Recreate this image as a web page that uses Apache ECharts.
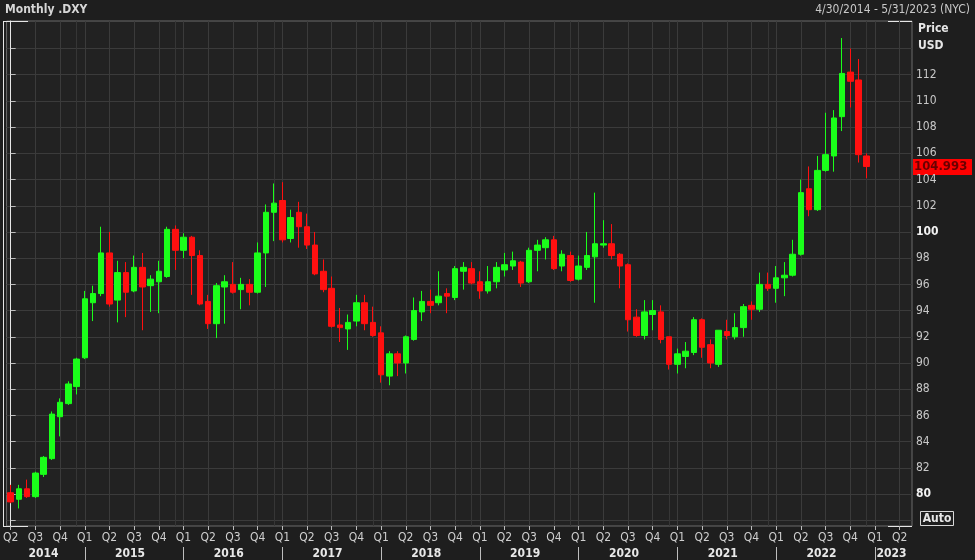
<!DOCTYPE html>
<html>
<head>
<meta charset="utf-8">
<title>Monthly .DXY</title>
<script src="https://cdn.jsdelivr.net/npm/echarts@6/dist/echarts.min.js"></script>
<style>
  html, body { margin: 0; padding: 0; background: #1e1e1e; }
  #main { width: 975px; height: 560px; }
</style>
</head>
<body>
<div id="main"></div>
<script>
// monthly candles from Apr 2014; the time axis runs on to May 2023
const startYear = 2014
const startMonth = 4
const axisMonths = 110

const opens = [
  80.1, 79.6, 80.4, 79.8, 81.5, 82.7, 85.9, 86.9, 88.2, 90.4, 94.6, 95.3,
  98.4, 94.8, 96.9, 95.5, 97.3, 95.9, 96.2, 96.6, 100.2, 98.6, 99.6, 98.2,
  94.7, 93.0, 95.8, 96.0, 95.6, 96.0, 95.4, 98.4, 101.5, 102.4, 99.5, 101.5,
  100.4, 99.0, 97.0, 95.7, 92.9, 92.6, 93.2, 94.6, 93.1, 92.3, 89.0, 90.7,
  90.0, 91.8, 93.9, 94.7, 94.6, 95.3, 95.0, 97.0, 97.2, 96.2, 95.5, 96.2,
  97.1, 97.4, 97.7, 96.2, 98.6, 98.8, 99.4, 97.4, 98.2, 96.4, 97.3, 98.1,
  99.0, 99.1, 98.3, 97.5, 93.5, 92.1, 93.7, 93.9, 92.0, 89.9, 90.5, 90.8,
  93.3, 91.4, 89.9, 92.4, 92.0, 92.7, 94.4, 94.1, 96.0, 95.7, 96.5, 96.7,
  98.3, 103.3, 101.7, 104.7, 105.8, 108.8, 112.2, 111.6, 105.8
]
const closes = [
  79.4, 80.4, 79.8, 81.6, 82.8, 86.1, 87.0, 88.4, 90.3, 94.9, 95.3, 98.4,
  94.5, 96.9, 95.4, 97.3, 95.8, 96.4, 97.0, 100.2, 98.6, 99.6, 98.2, 94.5,
  93.0, 95.9, 96.2, 95.4, 96.0, 95.4, 98.4, 101.5, 102.2, 99.4, 101.1, 100.4,
  99.0, 96.8, 95.6, 92.8, 92.7, 93.1, 94.6, 93.0, 92.1, 89.1, 90.7, 90.0,
  92.0, 94.0, 94.7, 94.4, 95.1, 95.1, 97.2, 97.3, 96.1, 95.5, 96.2, 97.3,
  97.5, 97.8, 96.1, 98.6, 99.0, 99.4, 97.2, 98.3, 96.3, 97.4, 98.2, 99.1,
  99.1, 98.2, 97.4, 93.3, 92.1, 93.9, 94.0, 91.8, 89.9, 90.7, 90.9, 93.3,
  91.2, 90.0, 92.5, 92.1, 92.7, 94.3, 94.1, 96.0, 95.7, 96.5, 96.7, 98.3,
  103.0, 101.7, 104.7, 105.9, 108.7, 112.1, 111.5, 105.9, 104.993
]
const lows = [
  79.3, 78.9, 79.7, 79.7, 81.3, 82.6, 84.4, 86.8, 87.6, 90.3, 93.2, 95.1,
  94.3, 93.1, 93.5, 95.4, 92.5, 93.9, 93.8, 96.5, 97.1, 98.0, 95.2, 94.4,
  92.6, 91.9, 93.0, 95.3, 94.1, 94.4, 95.3, 95.8, 99.3, 99.2, 99.2, 98.8,
  98.7, 96.7, 95.4, 92.7, 91.6, 91.0, 92.8, 92.5, 92.0, 88.5, 88.3, 89.0,
  89.2, 91.7, 93.2, 93.8, 94.4, 93.8, 94.8, 95.6, 96.0, 94.9, 95.3, 95.7,
  96.6, 97.1, 95.8, 96.1, 97.0, 97.9, 97.1, 97.0, 96.2, 96.3, 97.1, 94.6,
  98.8, 97.9, 95.7, 92.4, 92.0, 91.8, 92.5, 91.5, 89.5, 89.2, 89.6, 90.6,
  90.4, 89.6, 89.7, 91.8, 91.8, 92.0, 93.3, 93.9, 95.5, 94.6, 95.1, 96.6,
  98.2, 101.2, 101.6, 104.6, 104.6, 107.7, 109.5, 105.3, 104.1
]
const highs = [
  80.7, 80.7, 81.1, 81.7, 82.9, 86.3, 87.3, 88.6, 90.4, 95.5, 95.9, 100.4,
  100.0, 97.8, 97.7, 98.2, 98.4, 96.7, 97.8, 100.4, 100.5, 99.9, 99.7, 98.6,
  95.2, 96.1, 96.7, 97.7, 96.5, 96.4, 99.2, 102.1, 103.7, 103.8, 101.7, 102.3,
  101.4, 100.0, 97.9, 96.6, 94.2, 93.7, 95.2, 95.2, 94.3, 92.8, 90.9, 90.9,
  92.1, 95.0, 95.5, 95.6, 97.0, 95.7, 97.4, 97.7, 97.7, 97.0, 97.4, 97.7,
  98.4, 98.5, 97.8, 98.8, 99.4, 99.6, 99.7, 98.6, 98.5, 98.2, 100.0, 103.0,
  100.9, 100.6, 98.4, 97.6, 94.1, 94.8, 94.8, 94.4, 92.0, 91.1, 91.6, 93.5,
  93.4, 91.8, 92.5, 93.3, 93.8, 94.5, 94.7, 96.9, 96.9, 97.4, 97.7, 99.4,
  104.0, 105.0, 105.8, 109.1, 109.3, 114.8, 114.0, 113.2, 106.0
]

const priceTicks = [78, 80, 82, 84, 86, 88, 90, 92, 94, 96, 98, 100, 102, 104, 106, 108, 110, 112, 114]
const priceLabels = [80, 82, 84, 86, 88, 90, 92, 94, 96, 98, 100, 102, 104, 106, 108, 110, 112]
const boldPrices = [80, 100]
const quarterNames = ['Q1', 'Q2', 'Q3', 'Q4']
const dateRange = '4/30/2014 - 5/31/2023 (NYC)'

// layout of the plot box (px)
const plot = { left: 3, right: 912, top: 21, bottom: 526 }
const W = 975, H = 560
const yMin = 77.56, yMax = 116.1

const FONT = '"DejaVu Sans Condensed", "DejaVu Sans", sans-serif'

// month helpers
const monthOf = (i) => (startMonth - 1 + i) % 12
const yearOf = (i) => startYear + Math.floor((startMonth - 1 + i) / 12)

const idx = Array.from({ length: axisMonths }, (_, i) => i)
const quarterIdx = idx.filter((i) => monthOf(i) % 3 === 0)
const janIdx = idx.filter((i) => i > 0 && monthOf(i) === 0)
const decIdx = idx.filter((i) => monthOf(i) === 11)

// year label sits in the middle of the months it covers
const yearCenter = {}
idx.forEach((i) => {
  const y = yearOf(i)
  yearCenter[y] = yearCenter[y] || []
  yearCenter[y].push(i)
})
const yearPos = Object.keys(yearCenter).map((y) => {
  const list = yearCenter[y]
  return { year: y, pos: list.reduce((a, b) => a + b, 0) / list.length }
})

const candles = opens.map((o, i) => [i, o, closes[i], lows[i], highs[i]])
const lastClose = closes[closes.length - 1]

const chart = echarts.init(document.getElementById('main'))

const graphics = [
  {
    type: 'text',
    left: 5,
    top: 4,
    style: { text: 'Monthly .DXY', fill: '#d6d6d6', font: 'bold 12px ' + FONT }
  },
  {
    type: 'text',
    right: 5,
    top: 4,
    style: { text: dateRange, fill: '#c8c8c8', font: '12px ' + FONT }
  },
  {
    type: 'text',
    left: plot.right + 6,
    top: plot.top + 2,
    style: { text: 'Price', fill: '#e6e6e6', font: 'bold 12px ' + FONT }
  },
  {
    type: 'text',
    left: plot.right + 6,
    top: plot.top + 19,
    style: { text: 'USD', fill: '#e6e6e6', font: 'bold 12px ' + FONT }
  },
  // white plot frame accents
  {
    type: 'line',
    shape: { x1: plot.left + 0.5, y1: plot.top, x2: plot.left + 0.5, y2: plot.bottom },
    style: { stroke: '#e6e6e6', lineWidth: 1 }
  },
  {
    type: 'line',
    shape: { x1: plot.left, y1: plot.top + 0.5, x2: plot.left + 25, y2: plot.top + 0.5 },
    style: { stroke: '#e6e6e6', lineWidth: 1 }
  },
  {
    type: 'line',
    shape: { x1: plot.right - 24, y1: plot.top + 0.5, x2: plot.right, y2: plot.top + 0.5 },
    style: { stroke: '#e6e6e6', lineWidth: 1 }
  },
  {
    type: 'line',
    shape: { x1: plot.left, y1: plot.bottom + 0.5, x2: plot.left + 25, y2: plot.bottom + 0.5 },
    style: { stroke: '#e6e6e6', lineWidth: 1 }
  },
  {
    type: 'line',
    shape: { x1: plot.right - 24, y1: plot.bottom + 0.5, x2: plot.right, y2: plot.bottom + 0.5 },
    style: { stroke: '#e6e6e6', lineWidth: 1 }
  },
  // "Auto" scale box
  {
    type: 'rect',
    shape: { x: plot.right + 8.5, y: plot.bottom - 14.5, width: 33, height: 14 },
    style: { fill: 'none', stroke: '#d8d8d8', lineWidth: 1 }
  },
  {
    type: 'text',
    x: plot.right + 25,
    y: plot.bottom - 7.5,
    style: {
      text: 'Auto',
      fill: '#e6e6e6',
      font: 'bold 12px ' + FONT,
      align: 'center',
      verticalAlign: 'middle'
    }
  }
]

const option = {
  backgroundColor: '#1e1e1e',
  animation: false,
  textStyle: { fontFamily: FONT },
  grid: {
    left: plot.left,
    right: W - plot.right,
    top: plot.top,
    bottom: H - plot.bottom,
    show: true,
    backgroundColor: '#222222',
    borderColor: '#6a6a6a',
    borderWidth: 1
  },
  xAxis: [
    {
      type: 'value',
      min: -0.5,
      max: axisMonths - 0.5,
      axisLine: { show: false },
      axisTick: {
        customValues: quarterIdx,
        length: 4,
        lineStyle: { color: '#bdbdbd' }
      },
      axisLabel: {
        customValues: quarterIdx,
        formatter: (v) => quarterNames[Math.floor(monthOf(Math.round(v)) / 3)],
        color: '#cfcfcf',
        fontSize: 12,
        margin: 6,
        fontFamily: FONT
      },
      splitLine: { show: true, lineStyle: { color: '#3b3b3b' } }
    },
    {
      type: 'value',
      min: -0.5,
      max: axisMonths - 0.5,
      position: 'bottom',
      offset: 21,
      axisLine: { show: false },
      axisTick: {
        customValues: janIdx,
        length: 13,
        lineStyle: { color: '#bdbdbd' }
      },
      axisLabel: {
        customValues: yearPos.map((d) => d.pos),
        formatter: (v) => {
          const hit = yearPos.find((d) => Math.abs(d.pos - v) < 0.01)
          return hit ? hit.year : ''
        },
        color: '#e8e8e8',
        fontWeight: 'bold',
        fontSize: 12,
        margin: 1,
        fontFamily: FONT
      },
      splitLine: { show: false }
    },
    {
      // extra December grid lines
      type: 'value',
      min: -0.5,
      max: axisMonths - 0.5,
      axisLine: { show: false },
      axisTick: { show: false, customValues: decIdx },
      axisLabel: { show: false, customValues: decIdx },
      splitLine: { show: true, lineStyle: { color: '#363636' } }
    }
  ],
  yAxis: {
    type: 'value',
    position: 'right',
    min: yMin,
    max: yMax,
    axisLine: { show: true, lineStyle: { color: '#e6e6e6' } },
    axisTick: {
      show: true,
      customValues: priceTicks,
      length: 5,
      lineStyle: { color: '#bdbdbd' }
    },
    axisLabel: {
      customValues: priceLabels,
      formatter: (v) => (boldPrices.includes(v) ? '{b|' + v + '}' : String(v)),
      color: '#c8c8c8',
      fontSize: 12,
      margin: 4,
      fontFamily: FONT,
      rich: {
        b: { color: '#f2f2f2', fontWeight: 'bold', fontSize: 12, fontFamily: FONT }
      }
    },
    splitLine: { show: true, lineStyle: { color: '#3b3b3b' } }
  },
  series: [
    {
      type: 'candlestick',
      xAxisIndex: 0,
      data: candles,
      encode: { x: 0, y: [1, 2, 3, 4] },
      barWidth: 6,
      itemStyle: {
        color: '#1aff1a',
        color0: '#ff1010',
        borderColor: '#1aff1a',
        borderColor0: '#ff1010',
        borderWidth: 1
      }
    }
  ],
  graphic: graphics
}

chart.setOption(option)

// last price tag on the price axis, placed through the axis scale
const tagY = chart.convertToPixel({ yAxisIndex: 0 }, lastClose)
graphics.push(
  {
    type: 'rect',
    shape: { x: plot.right + 1, y: Math.round(tagY) - 8, width: 59, height: 16 },
    style: { fill: '#ff0000' }
  },
  {
    type: 'text',
    x: plot.right + 2,
    y: Math.round(tagY),
    style: {
      text: lastClose.toFixed(3),
      fill: '#6a0000',
      font: 'bold 13px ' + FONT,
      verticalAlign: 'middle'
    }
  }
)
chart.setOption({ graphic: graphics })
</script>
</body>
</html>
